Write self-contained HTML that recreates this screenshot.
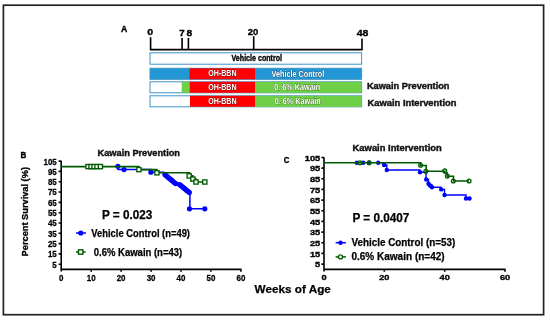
<!DOCTYPE html>
<html><head><meta charset="utf-8"><style>
html,body{margin:0;padding:0;background:#fff;width:550px;height:320px;overflow:hidden}
svg{display:block;will-change:transform}
text{font-family:"Liberation Sans",sans-serif;font-weight:bold;stroke:currentColor;paint-order:stroke}
</style></head><body>
<svg width="550" height="320" viewBox="0 0 550 320">
<rect x="3.4" y="5.2" width="540.2" height="309.5" fill="none" stroke="#222" stroke-width="1.7"/>
<text x="121.1" y="32.2" font-size="9.5" text-anchor="start" fill="#000" stroke="#000" textLength="6.3" lengthAdjust="spacingAndGlyphs" stroke-width="0.4" >A</text>
<text x="150.1" y="35.1" font-size="9.8" text-anchor="middle" fill="#000" stroke="#000" textLength="5.9" lengthAdjust="spacingAndGlyphs" stroke-width="0.35" >0</text>
<text x="181.9" y="36.0" font-size="9.8" text-anchor="middle" fill="#000" stroke="#000" textLength="5.4" lengthAdjust="spacingAndGlyphs" stroke-width="0.35" >7</text>
<text x="189.3" y="35.9" font-size="9.8" text-anchor="middle" fill="#000" stroke="#000" textLength="5.7" lengthAdjust="spacingAndGlyphs" stroke-width="0.35" >8</text>
<text x="252.9" y="34.6" font-size="9.8" text-anchor="middle" fill="#000" stroke="#000" textLength="10.5" lengthAdjust="spacingAndGlyphs" stroke-width="0.35" >20</text>
<text x="362.5" y="35.9" font-size="9.8" text-anchor="middle" fill="#000" stroke="#000" textLength="11.7" lengthAdjust="spacingAndGlyphs" stroke-width="0.35" >48</text>
<path d="M150.6 37.3V49.6H362V38.5 M182.1 38V49.6 M188.4 38V49.6 M253.7 36.2V49.6" fill="none" stroke="#000" stroke-width="1.6"/>
<rect x="150" y="52.8" width="211.6" height="11.4" fill="#fff" stroke="#3b93c6" stroke-width="1"/>
<text x="231.5" y="61.3" font-size="8.2" text-anchor="start" fill="#000" stroke="#000" textLength="50.5" lengthAdjust="spacingAndGlyphs" stroke-width="0.35" >Vehicle control</text>
<rect x="150" y="68.3" width="211.6" height="11" fill="#2297d5" stroke="#3b93c6" stroke-width="1"/>
<rect x="189.6" y="68.3" width="65.4" height="11" fill="#ff0000"/>
<text x="208.2" y="76.2" font-size="8.4" text-anchor="start" fill="#fff" stroke="#fff" textLength="28.4" lengthAdjust="spacingAndGlyphs" stroke-width="0.35" >OH-BBN</text>
<text x="271.6" y="76.6" font-size="8.3" text-anchor="start" fill="#fff" stroke="#fff" textLength="52.6" lengthAdjust="spacingAndGlyphs" stroke-width="0.35" >Vehicle Control</text>
<rect x="150" y="81.8" width="211.6" height="11" fill="#fff" stroke="#3b93c6" stroke-width="1"/>
<rect x="181.7" y="81.8" width="7.8" height="11" fill="#6fcf45"/>
<rect x="189.5" y="81.8" width="65.5" height="11" fill="#ff0000"/>
<rect x="255" y="81.8" width="106.6" height="11" fill="#6fcf45"/>
<text x="208.2" y="89.7" font-size="8.4" text-anchor="start" fill="#fff" stroke="#fff" textLength="28.4" lengthAdjust="spacingAndGlyphs" stroke-width="0.35" >OH-BBN</text>
<text x="274.3" y="89.8" font-size="8.3" text-anchor="start" fill="#fff" stroke="#fff" textLength="45.8" lengthAdjust="spacingAndGlyphs" stroke-width="0.35" >0. 6% Kawain</text>
<rect x="150" y="95.8" width="211.6" height="11" fill="#fff" stroke="#3b93c6" stroke-width="1"/>
<rect x="190" y="95.8" width="65" height="11" fill="#ff0000"/>
<rect x="255" y="95.8" width="106.6" height="11" fill="#6fcf45"/>
<text x="208.2" y="103.7" font-size="8.4" text-anchor="start" fill="#fff" stroke="#fff" textLength="28.4" lengthAdjust="spacingAndGlyphs" stroke-width="0.35" >OH-BBN</text>
<text x="274.8" y="103.9" font-size="8.3" text-anchor="start" fill="#fff" stroke="#fff" textLength="45.8" lengthAdjust="spacingAndGlyphs" stroke-width="0.35" >0. 6% Kawain</text>
<text x="366.9" y="89.1" font-size="9.9" text-anchor="start" fill="#111" stroke="#111" textLength="82.6" lengthAdjust="spacingAndGlyphs" stroke-width="0.42" >Kawain Prevention</text>
<text x="367.6" y="106.4" font-size="9.9" text-anchor="start" fill="#111" stroke="#111" textLength="88.8" lengthAdjust="spacingAndGlyphs" stroke-width="0.42" >Kawain Intervention</text>
<text x="20.5" y="157.5" font-size="9.0" text-anchor="start" fill="#000" stroke="#000" textLength="5.8" lengthAdjust="spacingAndGlyphs" stroke-width="0.4" >B</text>
<text x="97.6" y="155.5" font-size="9.9" text-anchor="start" fill="#111" stroke="#111" textLength="82.4" lengthAdjust="spacingAndGlyphs" stroke-width="0.42" >Kawain Prevention</text>
<path d="M61.2 160.8V271.5 M60.5 269.4H241.6 M58.6 264.2H61.2 M58.6 253.9H61.2 M58.6 243.6H61.2 M58.6 233.3H61.2 M58.6 223.0H61.2 M58.6 212.7H61.2 M58.6 202.4H61.2 M58.6 192.0H61.2 M58.6 181.7H61.2 M58.6 171.4H61.2 M58.6 161.1H61.2 M91.2 269.4V271.7 M121.1 269.4V271.7 M151.1 269.4V271.7 M181.0 269.4V271.7 M210.9 269.4V271.7 M240.9 269.4V271.7" fill="none" stroke="#000" stroke-width="1.6"/>
<text transform="translate(56.8 267.6) scale(0.96 1)" font-size="8.3" stroke-width="0.25" text-anchor="end">5</text>
<text transform="translate(56.8 257.3) scale(0.96 1)" font-size="8.3" stroke-width="0.25" text-anchor="end">15</text>
<text transform="translate(56.8 247.0) scale(0.96 1)" font-size="8.3" stroke-width="0.25" text-anchor="end">25</text>
<text transform="translate(56.8 236.7) scale(0.96 1)" font-size="8.3" stroke-width="0.25" text-anchor="end">35</text>
<text transform="translate(56.8 226.4) scale(0.96 1)" font-size="8.3" stroke-width="0.25" text-anchor="end">45</text>
<text transform="translate(56.8 216.0) scale(0.96 1)" font-size="8.3" stroke-width="0.25" text-anchor="end">55</text>
<text transform="translate(56.8 205.7) scale(0.96 1)" font-size="8.3" stroke-width="0.25" text-anchor="end">65</text>
<text transform="translate(56.8 195.4) scale(0.96 1)" font-size="8.3" stroke-width="0.25" text-anchor="end">75</text>
<text transform="translate(56.8 185.1) scale(0.96 1)" font-size="8.3" stroke-width="0.25" text-anchor="end">85</text>
<text transform="translate(56.8 174.8) scale(0.96 1)" font-size="8.3" stroke-width="0.25" text-anchor="end">95</text>
<text transform="translate(56.8 164.5) scale(0.96 1)" font-size="8.3" stroke-width="0.25" text-anchor="end">105</text>
<text transform="translate(61.2 281.2) scale(0.96 1)" font-size="8.3" stroke-width="0.25" text-anchor="middle">0</text>
<text transform="translate(91.2 281.2) scale(0.96 1)" font-size="8.3" stroke-width="0.25" text-anchor="middle">10</text>
<text transform="translate(121.1 281.2) scale(0.96 1)" font-size="8.3" stroke-width="0.25" text-anchor="middle">20</text>
<text transform="translate(151.1 281.2) scale(0.96 1)" font-size="8.3" stroke-width="0.25" text-anchor="middle">30</text>
<text transform="translate(181.0 281.2) scale(0.96 1)" font-size="8.3" stroke-width="0.25" text-anchor="middle">40</text>
<text transform="translate(210.9 281.2) scale(0.96 1)" font-size="8.3" stroke-width="0.25" text-anchor="middle">50</text>
<text transform="translate(240.9 281.2) scale(0.96 1)" font-size="8.3" stroke-width="0.25" text-anchor="middle">60</text>
<text x="0" y="0" font-size="9" text-anchor="middle" fill="#000" stroke="#000" textLength="89.4" lengthAdjust="spacingAndGlyphs" stroke-width="0.33" transform="translate(28.4 211.7) rotate(-90)">Percent Survival (%)</text>
<text x="102.0" y="218.9" font-size="12.2" text-anchor="start" fill="#000" stroke="#000" textLength="50.3" lengthAdjust="spacingAndGlyphs" stroke-width="0.25" >P = 0.023</text>
<text x="91.3" y="236.5" font-size="10.1" text-anchor="start" fill="#000" stroke="#000" textLength="98.7" lengthAdjust="spacingAndGlyphs" stroke-width="0.25" >Vehicle Control (n=49)</text>
<text x="93.8" y="255.7" font-size="10.1" text-anchor="start" fill="#000" stroke="#000" textLength="88.4" lengthAdjust="spacingAndGlyphs" stroke-width="0.25" >0.6% Kawain (n=43)</text>
<path d="M76 233H86" stroke="#0000ff" stroke-width="1.5"/><circle cx="80.8" cy="233" r="2.6" fill="#0000ff"/>
<path d="M76 252H85.6" stroke="#005a00" stroke-width="1.5"/><rect x="78.5" y="249.8" width="4.4" height="4.4" fill="#fff" stroke="#005a00" stroke-width="1.4"/>
<path d="M117 166.6H118V169.4H151V172.2H164.5" fill="none" stroke="#0000ff" stroke-width="1.5"/>
<path d="M164.9 174.6 L166.2 175.7 L167.6 176.8 L168.9 178.0 L170.2 179.1 L171.6 180.2 L172.9 181.3 L174.3 182.5 L175.6 183.6 H178.5 L179.6 184.6 L181.0 185.7 L182.4 186.8 L183.8 187.9 L185.1 189.1 L186.5 190.2 L187.9 191.3 L189.3 192.4" fill="none" stroke="#0000ff" stroke-width="2"/>
<path d="M189.9 192V208.8H204.8" fill="none" stroke="#0000ff" stroke-width="1.5"/>
<circle cx="117.9" cy="166.3" r="2.6" fill="#0000ff"/>
<circle cx="124.0" cy="169.6" r="2.6" fill="#0000ff"/>
<circle cx="150.9" cy="172.2" r="2.6" fill="#0000ff"/>
<circle cx="189.5" cy="208.8" r="2.6" fill="#0000ff"/>
<circle cx="204.8" cy="208.8" r="2.6" fill="#0000ff"/>
<circle cx="164.9" cy="174.6" r="2.6" fill="#0000ff"/>
<circle cx="166.2" cy="175.7" r="2.6" fill="#0000ff"/>
<circle cx="167.6" cy="176.8" r="2.6" fill="#0000ff"/>
<circle cx="168.9" cy="178.0" r="2.6" fill="#0000ff"/>
<circle cx="170.2" cy="179.1" r="2.6" fill="#0000ff"/>
<circle cx="171.6" cy="180.2" r="2.6" fill="#0000ff"/>
<circle cx="172.9" cy="181.3" r="2.6" fill="#0000ff"/>
<circle cx="174.3" cy="182.5" r="2.6" fill="#0000ff"/>
<circle cx="175.6" cy="183.6" r="2.6" fill="#0000ff"/>
<circle cx="179.6" cy="184.6" r="2.6" fill="#0000ff"/>
<circle cx="181.0" cy="185.7" r="2.6" fill="#0000ff"/>
<circle cx="182.4" cy="186.8" r="2.6" fill="#0000ff"/>
<circle cx="183.8" cy="187.9" r="2.6" fill="#0000ff"/>
<circle cx="185.1" cy="189.1" r="2.6" fill="#0000ff"/>
<circle cx="186.5" cy="190.2" r="2.6" fill="#0000ff"/>
<circle cx="187.9" cy="191.3" r="2.6" fill="#0000ff"/>
<circle cx="189.3" cy="192.4" r="2.6" fill="#0000ff"/>
<path d="M61 166.6H138.9V169.6H156.9V172.8H189.6V175.9H192.9V179.1H196V182H204.8" fill="none" stroke="#005a00" stroke-width="1.6"/>
<rect x="85.9" y="164.5" width="4.2" height="4.2" fill="#fff" stroke="#005a00" stroke-width="1.35"/>
<rect x="88.9" y="164.5" width="4.2" height="4.2" fill="#fff" stroke="#005a00" stroke-width="1.35"/>
<rect x="91.9" y="164.5" width="4.2" height="4.2" fill="#fff" stroke="#005a00" stroke-width="1.35"/>
<rect x="94.9" y="164.5" width="4.2" height="4.2" fill="#fff" stroke="#005a00" stroke-width="1.35"/>
<rect x="98.3" y="164.5" width="4.2" height="4.2" fill="#fff" stroke="#005a00" stroke-width="1.35"/>
<rect x="136.8" y="167.5" width="4.2" height="4.2" fill="#fff" stroke="#005a00" stroke-width="1.35"/>
<rect x="154.8" y="170.7" width="4.2" height="4.2" fill="#fff" stroke="#005a00" stroke-width="1.35"/>
<rect x="187.1" y="173.8" width="4.2" height="4.2" fill="#fff" stroke="#005a00" stroke-width="1.35"/>
<rect x="190.8" y="177.0" width="4.2" height="4.2" fill="#fff" stroke="#005a00" stroke-width="1.35"/>
<rect x="193.9" y="179.9" width="4.2" height="4.2" fill="#fff" stroke="#005a00" stroke-width="1.35"/>
<rect x="202.7" y="179.9" width="4.2" height="4.2" fill="#fff" stroke="#005a00" stroke-width="1.35"/>
<text x="283.8" y="163.4" font-size="9.9" text-anchor="start" fill="#000" stroke="#000" textLength="5.6" lengthAdjust="spacingAndGlyphs" stroke-width="0.4" >C</text>
<text x="352.6" y="150.5" font-size="9.9" text-anchor="start" fill="#111" stroke="#111" textLength="89.1" lengthAdjust="spacingAndGlyphs" stroke-width="0.42" >Kawain Intervention</text>
<path d="M324.0 157.2V271.5 M323.3 269.4H505.6 M321.4 264.1H324.0 M321.4 253.4H324.0 M321.4 242.7H324.0 M321.4 232.1H324.0 M321.4 221.4H324.0 M321.4 210.8H324.0 M321.4 200.1H324.0 M321.4 189.4H324.0 M321.4 178.8H324.0 M321.4 168.1H324.0 M321.4 157.5H324.0 M384.3 269.4V271.7 M444.7 269.4V271.7 M505.0 269.4V271.7" fill="none" stroke="#000" stroke-width="1.6"/>
<text transform="translate(320.2 267.3) scale(1.18 1)" font-size="7.8" stroke-width="0.35" text-anchor="end">5</text>
<text transform="translate(320.2 256.6) scale(1.18 1)" font-size="7.8" stroke-width="0.35" text-anchor="end">15</text>
<text transform="translate(320.2 245.9) scale(1.18 1)" font-size="7.8" stroke-width="0.35" text-anchor="end">25</text>
<text transform="translate(320.2 235.3) scale(1.18 1)" font-size="7.8" stroke-width="0.35" text-anchor="end">35</text>
<text transform="translate(320.2 224.6) scale(1.18 1)" font-size="7.8" stroke-width="0.35" text-anchor="end">45</text>
<text transform="translate(320.2 214.0) scale(1.18 1)" font-size="7.8" stroke-width="0.35" text-anchor="end">55</text>
<text transform="translate(320.2 203.3) scale(1.18 1)" font-size="7.8" stroke-width="0.35" text-anchor="end">65</text>
<text transform="translate(320.2 192.6) scale(1.18 1)" font-size="7.8" stroke-width="0.35" text-anchor="end">75</text>
<text transform="translate(320.2 182.0) scale(1.18 1)" font-size="7.8" stroke-width="0.35" text-anchor="end">85</text>
<text transform="translate(320.2 171.3) scale(1.18 1)" font-size="7.8" stroke-width="0.35" text-anchor="end">95</text>
<text transform="translate(320.2 160.7) scale(1.18 1)" font-size="7.8" stroke-width="0.35" text-anchor="end">105</text>
<text transform="translate(324.0 279.8) scale(1.18 1)" font-size="7.8" stroke-width="0.35" text-anchor="middle">0</text>
<text transform="translate(384.3 279.8) scale(1.18 1)" font-size="7.8" stroke-width="0.35" text-anchor="middle">20</text>
<text transform="translate(444.7 279.8) scale(1.18 1)" font-size="7.8" stroke-width="0.35" text-anchor="middle">40</text>
<text transform="translate(505.0 279.8) scale(1.18 1)" font-size="7.8" stroke-width="0.35" text-anchor="middle">60</text>
<text x="352.4" y="221.6" font-size="12.2" text-anchor="start" fill="#000" stroke="#000" textLength="56.9" lengthAdjust="spacingAndGlyphs" stroke-width="0.25" >P = 0.0407</text>
<text x="351.4" y="245.9" font-size="10.4" text-anchor="start" fill="#000" stroke="#000" textLength="103.9" lengthAdjust="spacingAndGlyphs" stroke-width="0.25" >Vehicle Control (n=53)</text>
<text x="351.4" y="259.8" font-size="10.4" text-anchor="start" fill="#000" stroke="#000" textLength="93.3" lengthAdjust="spacingAndGlyphs" stroke-width="0.25" >0.6% Kawain (n=42)</text>
<path d="M335.6 242.7H345.9" stroke="#0000ff" stroke-width="1.5"/><circle cx="340.5" cy="242.7" r="2.2" fill="#0000ff"/>
<path d="M335.6 256.9H345.9" stroke="#005a00" stroke-width="1.5"/><circle cx="340.5" cy="256.9" r="2" fill="#fff" stroke="#005a00" stroke-width="1.3"/>
<path d="M377 162.8H384V165H386.8V170H420V172.3H426V179.5H428.5V185H432V187.2H441V189.5H444.5V195H466V198.5H469.5" fill="none" stroke="#0000ff" stroke-width="1.4"/>
<circle cx="356.8" cy="162.8" r="2.2" fill="#0000ff"/>
<circle cx="363.2" cy="162.8" r="2.2" fill="#0000ff"/>
<circle cx="369.1" cy="162.8" r="2.2" fill="#0000ff"/>
<circle cx="378.2" cy="162.8" r="2.2" fill="#0000ff"/>
<circle cx="384.1" cy="165" r="2.2" fill="#0000ff"/>
<circle cx="386.8" cy="170" r="2.2" fill="#0000ff"/>
<circle cx="420" cy="172.3" r="2.2" fill="#0000ff"/>
<circle cx="426.2" cy="179.5" r="2.2" fill="#0000ff"/>
<circle cx="428.5" cy="183.8" r="2.2" fill="#0000ff"/>
<circle cx="430" cy="185.5" r="2.2" fill="#0000ff"/>
<circle cx="432" cy="187.3" r="2.2" fill="#0000ff"/>
<circle cx="441.2" cy="189.4" r="2.2" fill="#0000ff"/>
<circle cx="444.5" cy="195" r="2.2" fill="#0000ff"/>
<circle cx="466" cy="198.5" r="2.2" fill="#0000ff"/>
<circle cx="469.5" cy="198.5" r="2.2" fill="#0000ff"/>
<path d="M324.2 162.7H420.5V165.5H426.2V171.2H444.8V173H447.3V176.2H453.5V181H469" fill="none" stroke="#005a00" stroke-width="1.6"/>
<circle cx="360" cy="162.7" r="1.9" fill="none" stroke="#005a00" stroke-width="1.3"/>
<circle cx="369.1" cy="162.7" r="1.9" fill="none" stroke="#005a00" stroke-width="1.3"/>
<circle cx="420.6" cy="165.2" r="1.9" fill="none" stroke="#005a00" stroke-width="1.3"/>
<circle cx="425.8" cy="171.3" r="1.9" fill="none" stroke="#005a00" stroke-width="1.3"/>
<circle cx="444.8" cy="170.9" r="1.9" fill="none" stroke="#005a00" stroke-width="1.3"/>
<circle cx="447.3" cy="176.1" r="1.9" fill="none" stroke="#005a00" stroke-width="1.3"/>

<circle cx="453.3" cy="181" r="1.9" fill="none" stroke="#005a00" stroke-width="1.3"/>
<circle cx="469.1" cy="181" r="1.9" fill="none" stroke="#005a00" stroke-width="1.3"/>
<text x="254.5" y="293.2" font-size="11.7" text-anchor="start" fill="#000" stroke="#000" textLength="76.4" lengthAdjust="spacingAndGlyphs" stroke-width="0.25" >Weeks of Age</text>
</svg>
</body></html>
